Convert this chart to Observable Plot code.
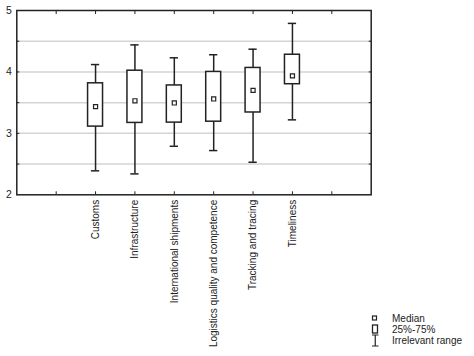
<!DOCTYPE html>
<html>
<head>
<meta charset="utf-8">
<script src="https://cdn.jsdelivr.net/npm/d3@7"></script>
<script src="https://cdn.jsdelivr.net/npm/@observablehq/plot@0.6"></script>
<style>
  body { margin: 0; background: #fff; }
  #wrap { position: relative; width: 474px; height: 356px; }
  #legend { position: absolute; left: 371px; top: 312.5px; font: 10px "Liberation Sans", Arial, sans-serif; color: #222; }
  #legend .row { display: flex; align-items: center; height: 11px; white-space: nowrap; }
  #legend svg { width: 21px; flex: none; overflow: visible; }
</style>
</head>
<body>
<div id="wrap"><div id="chart"></div>
<div id="legend">
  <div class="row"><svg height="10"><rect x="1.5" y="3" width="4" height="4" fill="#fff" stroke="#222" stroke-width="1.2"/></svg><span>Median</span></div>
  <div class="row"><svg height="10"><rect x="1.5" y="1" width="5" height="8" fill="#fff" stroke="#222" stroke-width="1.3"/></svg><span>25%-75%</span></div>
  <div class="row"><svg height="10"><path d="M1,0H7.5M4.25,0V11M1,11H7.5" fill="none" stroke="#222" stroke-width="1.2"/></svg><span>Irrelevant range</span></div>
</div>
</div>
<script>
const categories = ["Customs", "Infrastructure", "International shipments", "Logistics quality and competence", "Tracking and tracing", "Timeliness"];
const positions = [2, 3, 4, 5, 6, 7];
const whiskerLow = [2.39, 2.34, 2.79, 2.72, 2.53, 3.22];
const boxLow = [3.11, 3.17, 3.175, 3.19, 3.34, 3.80];
const medians = [3.435, 3.53, 3.495, 3.56, 3.70, 3.935];
const boxHigh = [3.815, 4.02, 3.78, 4.00, 4.065, 4.28];
const whiskerHigh = [4.12, 4.44, 4.23, 4.28, 4.37, 4.79];
const xTicks = [1, 2, 3, 4, 5, 6, 7, 8];
const yLabelTicks = [2, 3, 4, 5];
const yGridTicks = [2.5, 3, 3.5, 4, 4.5];

const data = categories.map((c, i) => ({
  cat: c, pos: positions[i], lo: whiskerLow[i], q1: boxLow[i], med: medians[i], q3: boxHigh[i], hi: whiskerHigh[i]
}));
const labelOf = new Map(positions.map((p, i) => [p, categories[i]]));

const halfBox = 0.19, halfCap = 0.105;
const font = '"Liberation Sans", Arial, sans-serif';

const chart = Plot.plot({
  width: 474,
  height: 356,
  marginLeft: 16.3,
  marginRight: 103.3,
  marginTop: 10,
  marginBottom: 161.7,
  style: { fontFamily: font, fontSize: "10px", color: "#222", background: "#fff" },
  x: { domain: [0, 9] },
  y: { domain: [2, 5] },
  marks: [
    Plot.ruleY(yGridTicks, { stroke: "#d4d4d4", strokeWidth: 1.5 }),
    Plot.axisY({ ticks: yLabelTicks, tickSize: 0, tickPadding: 5, tickFormat: d => String(d), label: null, fontSize: 10.5 }),
    Plot.axisY({ ticks: yGridTicks, tickSize: -3, tickFormat: () => "", label: null, stroke: "#222" }),
    Plot.axisY({ anchor: "right", ticks: yGridTicks, tickSize: -3, tickFormat: () => "", label: null, stroke: "#222" }),
    Plot.axisX({ ticks: xTicks, tickSize: -3, tickPadding: 8, tickRotate: -90, tickFormat: d => labelOf.get(d) ?? "", label: null, fontSize: 10, stroke: "#222" }),
    Plot.axisX({ anchor: "top", ticks: xTicks, tickSize: -3, tickFormat: () => "", label: null, stroke: "#222" }),
    Plot.ruleX(data, { x: "pos", y1: "lo", y2: "hi", stroke: "#222", strokeWidth: 1.5 }),
    Plot.ruleY(data, { y: "lo", x1: d => d.pos - halfCap, x2: d => d.pos + halfCap, stroke: "#222", strokeWidth: 1.5 }),
    Plot.ruleY(data, { y: "hi", x1: d => d.pos - halfCap, x2: d => d.pos + halfCap, stroke: "#222", strokeWidth: 1.5 }),
    Plot.rect(data, { x1: d => d.pos - halfBox, x2: d => d.pos + halfBox, y1: "q1", y2: "q3", fill: "#fff", stroke: "#222", strokeWidth: 1.5 }),
    Plot.dot(data, { x: "pos", y: "med", symbol: "square", r: 2.3, fill: "#fff", stroke: "#222", strokeWidth: 1.2 }),
    Plot.frame({ stroke: "#222", strokeWidth: 1.5 })
  ]
});
document.getElementById("chart").append(chart);
</script>
</body>
</html>
